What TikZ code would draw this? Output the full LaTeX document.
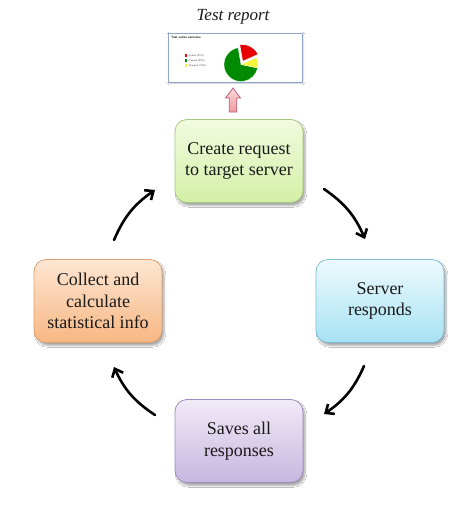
\documentclass[tikz,border=0pt]{standalone}
\usepackage{fontspec}
\setmainfont{Liberation Serif}
\usetikzlibrary{arrows.meta,shadows.blur}
\definecolor{gtop}{HTML}{F2FBE0}
\definecolor{gbot}{HTML}{D3EFA6}
\definecolor{gbord}{HTML}{A9C97E}
\definecolor{btop}{HTML}{EEFAFD}
\definecolor{bbot}{HTML}{A6E2F3}
\definecolor{bbord}{HTML}{7FBCD4}
\definecolor{otop}{HTML}{FDE6D2}
\definecolor{obot}{HTML}{F7B783}
\definecolor{obord}{HTML}{DDA070}
\definecolor{ptop}{HTML}{F1EBF7}
\definecolor{pbot}{HTML}{C6B6DF}
\definecolor{pbord}{HTML}{9E8DBE}
\definecolor{pinktop}{HTML}{FBD9D9}
\definecolor{pinkbot}{HTML}{EE9A9E}
\definecolor{pinkbord}{HTML}{C0607A}
\definecolor{repbord}{HTML}{8EA4C8}
\definecolor{pred}{HTML}{E60000}
\definecolor{pgreen}{HTML}{008A00}
\definecolor{pyellow}{HTML}{F5F53A}
\definecolor{txt}{HTML}{1A1A1A}
\begin{document}
\begin{tikzpicture}[x=1pt,y=-1pt,
  stepbox/.style={rounded corners=12pt, minimum width=128pt, minimum height=83pt,
    align=center, text=txt, line width=0.8pt, font=\fontsize{18}{21.5}\selectfont,
    blur shadow={shadow xshift=2pt,shadow yshift=-3pt,shadow blur steps=6,shadow opacity=35}},
  cyc/.style={line width=2.6pt, line cap=round, draw=black,
    -{Straight Barb[length=7pt,width=12pt,line width=2.6pt]}, bend left=16},
  legtxt/.style={font=\sffamily\fontsize{2.6}{3}\selectfont, text=black!70, anchor=west, inner sep=0pt}
]
\useasboundingbox (0,0) rectangle (474,512);
\fill[white] (0,0) rectangle (474,512);

% title
\node[font=\itshape\fontsize{17}{20}\selectfont, text=txt] (title) at (233,17) {Test report};

% report thumbnail
\node[draw=repbord, line width=0.9pt, fill=white, minimum width=134pt, minimum height=49pt,
  inner sep=0pt, blur shadow={shadow xshift=1pt,shadow yshift=-1pt,shadow blur steps=3,shadow opacity=20}]
  (report) at (235,57.5) {};
\node[font=\sffamily\bfseries\fontsize{3.2}{3.5}\selectfont, anchor=west, inner sep=0pt] (rtitle) at (171,37) {Test suites overview};
\fill[pred] (185,54.3) rectangle (187.2,56.5);
\fill[pgreen] (185,59.3) rectangle (187.2,61.5);
\fill[pyellow] (185,64.3) rectangle (187.2,66.5);
\node[legtxt] (l1) at (189,55.4) {Failed (21\%)};
\node[legtxt] (l2) at (189,60.4) {Passed (69\%)};
\node[legtxt] (l3) at (189,65.4) {Skipped (10\%)};
\begin{scope}[shift={(241,64.5)}]
  \fill[pgreen, draw=white, line width=0.3pt] (0,0) -- (100:17pt) arc[start angle=100, end angle=348.4, radius=17pt] -- cycle;
  \fill[pyellow, draw=white, line width=0.3pt] (0,0) -- (-11.6:17pt) arc[start angle=-11.6, end angle=24.4, radius=17pt] -- cycle;
  \fill[pred, draw=white, line width=0.6pt] (62:3.5pt) -- ++(24.4:17pt) arc[start angle=24.4, end angle=100, radius=17pt] -- cycle;
\end{scope}

% pink up arrow
\draw[draw=pinkbord, line width=0.8pt, top color=pinktop, bottom color=pinkbot]
  (233,88) -- (240.5,98) -- (236.8,98) -- (236.8,112) -- (229.2,112) -- (229.2,98) -- (225.5,98) -- cycle;

% boxes
\node[stepbox, draw=gbord, top color=gtop, bottom color=gbot] (req) at (239,161) {Create request\\to target server};
\node[stepbox, draw=bbord, top color=btop, bottom color=bbot] (resp) at (380,301) {Server\\responds};
\node[stepbox, draw=pbord, top color=ptop, bottom color=pbot] (save) at (239,441) {Saves all\\responses};
\node[stepbox, draw=obord, top color=otop, bottom color=obot] (coll) at (98,301) {Collect and\\calculate\\statistical info};

% cycle arrows
\coordinate (a1s) at (324,189);
\coordinate (a1e) at (365,239);
\coordinate (a2s) at (364,366);
\coordinate (a2e) at (324,414);
\coordinate (a3s) at (155,415);
\coordinate (a3e) at (114,367);
\coordinate (a4s) at (114,240);
\coordinate (a4e) at (155,190);
\draw[cyc] (a1s) to (a1e);
\draw[cyc] (a2s) to (a2e);
\draw[cyc] (a3s) to (a3e);
\draw[cyc] (a4s) to (a4e);
\end{tikzpicture}
\end{document}
